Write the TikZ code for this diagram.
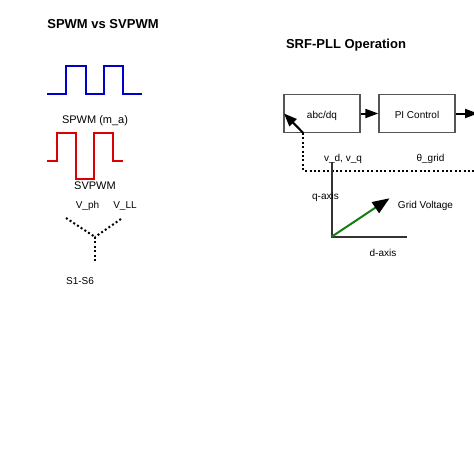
\documentclass[tikz,border=0pt]{standalone}
\usepackage{fontspec}
\setmainfont{Liberation Sans}
\usetikzlibrary{arrows.meta}
\definecolor{wblue}{RGB}{0,0,205}
\definecolor{wred}{RGB}{220,0,0}
\definecolor{vgreen}{RGB}{20,128,20}
\definecolor{axgray}{RGB}{51,51,51}
\definecolor{boxgray}{RGB}{85,85,85}
\begin{document}
\begin{tikzpicture}[x=1pt,y=-1pt,
  lbl/.style={font=\fontsize{10}{12}\selectfont, inner sep=0pt, anchor=base},
  midlbl/.style={font=\fontsize{11}{13}\selectfont, inner sep=0pt, anchor=base},
  ttl/.style={font=\fontsize{13}{15}\selectfont\bfseries, inner sep=0pt, anchor=base},
  blk/.style={draw=boxgray, line width=1.4pt, minimum width=76pt, minimum height=38pt, inner sep=0pt, text height=10pt, text depth=0pt, font=\fontsize{10}{12}\selectfont},
  arr/.style={-{Triangle[length=13pt,width=9pt]}, line width=2pt, black},
  dotl/.style={line width=2pt, dash pattern=on 2pt off 2.4pt},
  wave/.style={line width=2.2pt}]
\useasboundingbox (0,0) rectangle (474,474);
\clip (0,0) rectangle (474,474);
\fill[white] (0,0) rectangle (474,474);

% ---------- left panel ----------
\node[ttl] (t1) at (103,28.7) {SPWM vs SVPWM};
\draw[wave, wblue] (47,94) -- (66,94) -- (66,66) -- (86,66) -- (86,94) -- (104,94) -- (104,66) -- (123,66) -- (123,94) -- (142,94);
\node[midlbl] (spwm) at (95,123) {SPWM (m\_a)};
\draw[wave, wred] (47,161) -- (57,161) -- (57,133) -- (76,133) -- (76,179) -- (94,179) -- (94,133) -- (113,133) -- (113,161) -- (123,161);
\node[midlbl] (svpwm) at (95,189) {SVPWM};
\node[lbl] (vph) at (87.5,208.6) {V\_ph};
\node[lbl] (vll) at (125,208.6) {V\_LL};
\coordinate (ya) at (66,218);
\coordinate (yb) at (121,219);
\coordinate (yc) at (95,237);
\coordinate (yd) at (95,263);
\draw[dotl] (ya) -- (yc);
\draw[dotl] (yb) -- (yc);
\draw[dotl] (yc) -- (yd);
\node[lbl] (s16) at (80,284.6) {S1-S6};

% ---------- right panel ----------
\node[ttl] (t2) at (346,48) {SRF-PLL Operation};
\node[blk] (abc) at (322,113.5) {abc/dq};
\node[blk] (pi) at (417,113.5) {PI Control};
\coordinate (out) at (478,113.5);
\draw[arr] (abc.east) -- (pi.west);
\draw[arr] (pi.east) -- (out);
\coordinate (fb1) at (303.3,133);
\coordinate (fb2) at (303.3,170.7);
\coordinate (fb3) at (476,170.7);
\coordinate (fbtip) at (284,113.5);
\draw[dotl] (fb1) -- (fb2) -- (fb3);
\draw[-{Triangle[length=13pt,width=10pt]}, line width=2pt] (fb1) -- (fbtip);
\node[lbl] (vdq) at (343,161) {v\_d, v\_q};
\node[lbl] (theta) at (430.5,161) {θ\_grid};

\coordinate (o) at (331.7,236.7);
\coordinate (qend) at (331.7,161.5);
\coordinate (dend) at (407.3,236.7);
\draw[axgray, line width=2pt] (qend) -- (o) -- (dend);
\coordinate (gv) at (389.5,198.3);
\draw[vgreen, line width=2pt, -{Triangle[length=17pt,width=13pt,fill=black,color=black]}] (o) -- (gv);
\node[lbl] (qax) at (325.5,199.3) {q-axis};
\node[lbl] (dax) at (383,256) {d-axis};
\node[lbl] (gvl) at (425.5,208.6) {Grid Voltage};
\end{tikzpicture}
\end{document}
